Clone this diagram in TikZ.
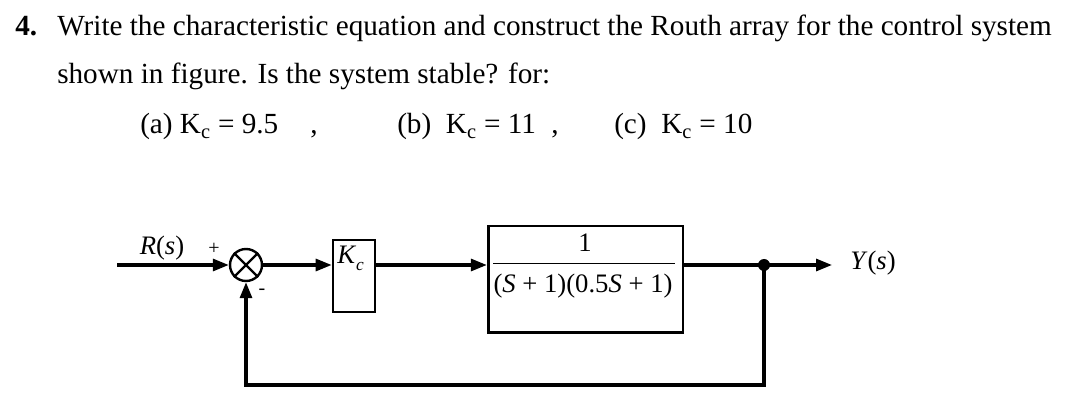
\documentclass[tikz,border=0pt]{standalone}
\usepackage{fontspec}
\setmainfont{Liberation Serif}
\usetikzlibrary{arrows.meta}
\begin{document}
\begin{tikzpicture}[x=0.75pt,y=-0.75pt,
  txt/.style={inner sep=0pt,anchor=base west,font=\fontsize{21.9}{24}\selectfont},
  wire/.style={line width=2.3pt},
  arr/.style={wire,-{Triangle[length=12pt,width=9pt]}},
  blk/.style={draw,line width=2pt,inner sep=0pt}]
\useasboundingbox (0,0) rectangle (1071,413);
\node[txt] (num) at (15,36) {\textbf{4.}};
\node[txt] (l1) at (57,36) {Write the characteristic equation and construct the Routh array for the control system};
\node[txt] (l2) at (57,84) {shown in figure. Is the system stable? for:};
\node[txt] (a) at (140,134) {(a) K\textsubscript{c} = 9.5};
\node[txt] (c1) at (310,134) {,};
\node[txt] (b) at (397,134) {(b)\ \ K\textsubscript{c} = 11};
\node[txt] (c2) at (551,134) {,};
\node[txt] (c) at (614,134) {(c)\ \ K\textsubscript{c} = 10};
% diagram
\coordinate (in) at (117,265);
\node[draw,circle,line width=1.8pt,minimum size=24pt,inner sep=0pt] (sum) at (246,265) {};
\draw[line width=1.8pt] (sum.45)--(sum.225) (sum.135)--(sum.315);
\node[blk,minimum width=31.5pt,minimum height=54pt] (kc) at (354,276) {};
\node[anchor=north west,inner sep=0pt,font=\fontsize{20}{22}\selectfont] (kct) at (337,246) {\textit{K}\raisebox{-5pt}{\fontsize{13}{14}\selectfont\textit{c}}};
\node[blk,minimum width=146pt,minimum height=80pt] (g) at (585.5,279.5) {};
\node[font=\fontsize{20}{22}\selectfont,inner sep=0pt] (gt1) at (585,243) {1};
\draw[line width=0.6pt] (493,263)--(675,263);
\node[font=\fontsize{20}{22}\selectfont,inner sep=0pt] (gt2) at (583,286) {(\textit{S} + 1)(0.5\textit{S} + 1)};
\fill (764,265) circle (4.5pt);
\coordinate (br) at (764,265);
\coordinate (out) at (832,265);
\coordinate (fb1) at (764,385);
\coordinate (fb2) at (246,385);
\node[font=\fontsize{20}{22}\selectfont,inner sep=0pt] (R) at (162,248) {\textit{R}(\textit{s})};
\node[font=\fontsize{15}{16}\selectfont,inner sep=0pt] (pl) at (214,249) {+};
\node[font=\fontsize{15}{16}\selectfont,inner sep=0pt] (mi) at (262,292) {-};
\node[font=\fontsize{20}{22}\selectfont,inner sep=0pt] (Y) at (873,263) {\textit{Y}(\textit{s})};
\draw[arr] (in)--(sum.west);
\draw[arr] (sum.east)--(kc.west|-sum.east);
\draw[arr] (kc.east|-sum.east)--(g.west|-sum.east);
\draw[wire] (g.east|-sum.east)--(br);
\draw[arr] (br)--(out);
\draw[arr] (br)--(fb1)--(fb2)--(sum.south);
\end{tikzpicture}
\end{document}
